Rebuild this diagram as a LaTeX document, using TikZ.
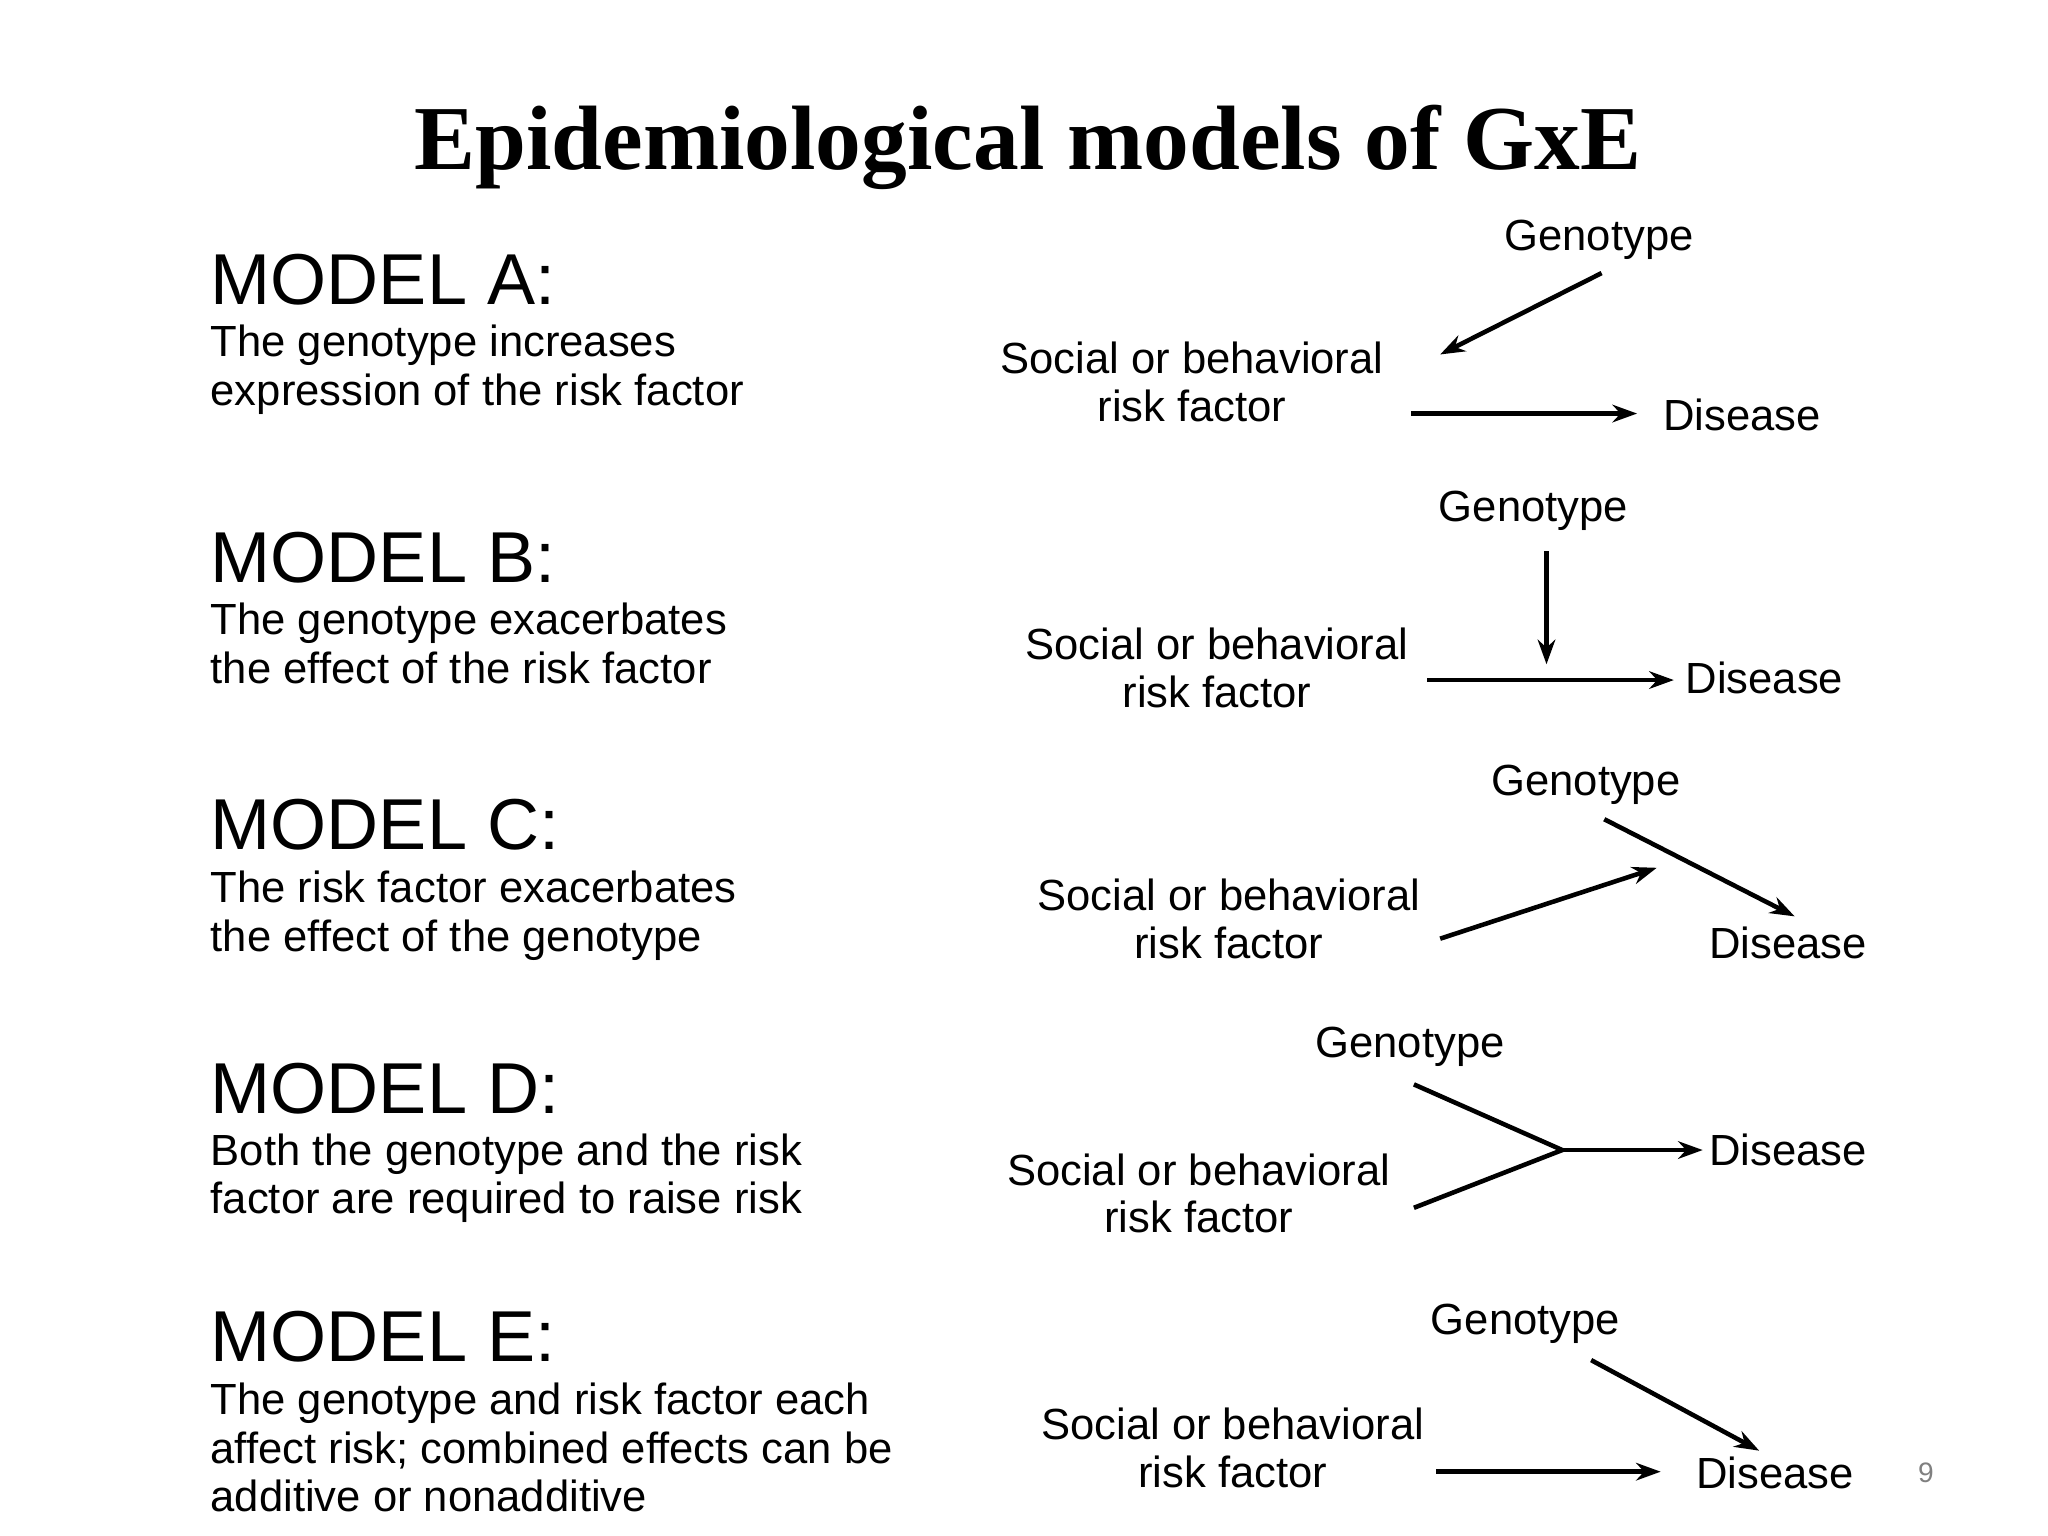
\documentclass[tikz,border=0pt]{standalone}
\usepackage{fontspec}
\setmainfont{Liberation Sans}
\newfontfamily\titlefont{Liberation Serif}
\usetikzlibrary{arrows.meta}
\begin{document}
\begin{tikzpicture}[x=0.013128cm,y=-0.013128cm,
  head/.style={anchor=west,font=\fontsize{20.5}{24}\selectfont,inner sep=0},
  body/.style={anchor=north west,align=left,font=\fontsize{12.4}{13.8}\selectfont,inner sep=0},
  lbl/.style={font=\fontsize{12.4}{13.6}\selectfont,inner sep=0,align=center},
  arr/.style={line width=1.3pt,-{Stealth[length=7pt,width=5pt]}},
  ln/.style={line width=1.3pt}]
\useasboundingbox (0,0) rectangle (1560,1170);
\node[font=\titlefont\bfseries\fontsize{26}{30}\selectfont] (title) at (783,112) {Epidemiological models of GxE};
% left column
\node[head] (hA) at (160,213) {MODEL A:};
\node[body] (tA) at (160,247) {The genotype increases\\expression of the risk factor};
\node[head] (hB) at (160,425) {MODEL B:};
\node[body] (tB) at (160,459) {The genotype exacerbates\\the effect of the risk factor};
\node[head] (hC) at (160,628) {MODEL C:};
\node[body] (tC) at (160,663) {The risk factor exacerbates\\the effect of the genotype};
\node[head] (hD) at (160,829) {MODEL D:};
\node[body] (tD) at (160,863) {Both the genotype and the risk\\factor are required to raise risk};
\node[head] (hE) at (160,1018) {MODEL E:};
\node[body] (tE) at (160,1053) {The genotype and risk factor each\\affect risk; combined effects can be\\additive or nonadditive};
% A
\node[lbl] (gA) at (1218,183) {Genotype};
\node[lbl] (sA) at (908,291) {Social or behavioral\\risk factor};
\node[lbl] (dA) at (1327,316) {Disease};
\coordinate (a1) at (1220,208); \coordinate (a2) at (1097,270);
\coordinate (a3) at (1075,315); \coordinate (a4) at (1247,315);
\draw[arr] (a1) -- (a2); \draw[arr] (a3) -- (a4);
% B
\node[lbl] (gB) at (1168,389) {Genotype};
\node[lbl] (sB) at (927,509) {Social or behavioral\\risk factor};
\node[lbl] (dB) at (1344,516) {Disease};
\coordinate (b1) at (1178,420); \coordinate (b2) at (1178,506);
\coordinate (b3) at (1087,518); \coordinate (b4) at (1275,518);
\draw[arr] (b1) -- (b2); \draw[arr] (b3) -- (b4);
% C
\node[lbl] (gC) at (1208,598) {Genotype};
\node[lbl] (sC) at (936,700) {Social or behavioral\\risk factor};
\node[lbl] (dC) at (1362,718) {Disease};
\coordinate (c1) at (1097,715); \coordinate (c2) at (1262,661);
\coordinate (c3) at (1222,624); \coordinate (c4) at (1367,698);
\draw[arr] (c1) -- (c2); \draw[arr] (c3) -- (c4);
% D
\node[lbl] (gD) at (1074,797) {Genotype};
\node[lbl] (sD) at (913,909) {Social or behavioral\\risk factor};
\node[lbl] (dD) at (1362,876) {Disease};
\coordinate (d1) at (1077,826); \coordinate (d2) at (1077,920);
\coordinate (dj) at (1190,876); \coordinate (d3) at (1297,876);
\draw[ln] (d1) -- (dj) -- (d2); \draw[arr] (dj) -- (d3);
% E
\node[lbl] (gE) at (1162,1008) {Genotype};
\node[lbl] (sE) at (939,1103) {Social or behavioral\\risk factor};
\node[lbl] (dE) at (1352,1122) {Disease};
\coordinate (e1) at (1212,1036); \coordinate (e2) at (1340,1105);
\coordinate (e3) at (1094,1121); \coordinate (e4) at (1265,1121);
\draw[arr] (e1) -- (e2); \draw[arr] (e3) -- (e4);
\node[text=gray,font=\fontsize{8}{9}\selectfont] (pg) at (1467,1122) {9};
\end{tikzpicture}
\end{document}
